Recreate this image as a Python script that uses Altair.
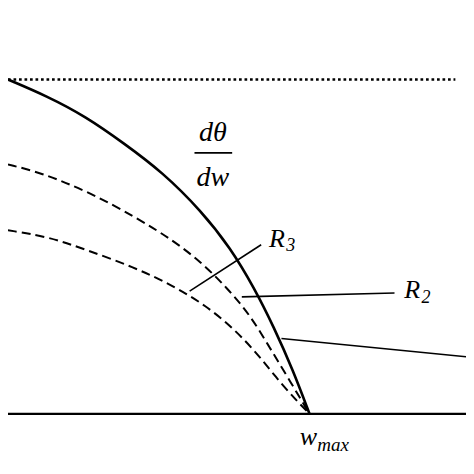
import altair as alt
import pandas as pd

# curves (x, y in picture units, y downwards)
solid_x = [0, 40, 80, 120, 160, 200, 230, 255, 275, 295, 312]
solid_y = [74, 91, 112, 140, 170, 210, 248, 290, 330, 375, 420]

r2_x = [0, 33, 83, 133, 170, 200, 227, 250, 270, 290, 312]
r2_y = [162, 170, 190, 217, 240, 263, 290, 317, 350, 383, 420]

r3_x = [0, 43, 80, 130, 170, 205, 235, 260, 285, 312]
r3_y = [230, 237, 250, 268, 287, 308, 333, 360, 392, 420]

leader_x = [[188, 262], [242, 400], [283, 474]]
leader_y = [[293, 245], [299, 295], [342, 361]]

dotted_y = 74
axis_y = 420

labels = ["R", "3", "R", "2", "dθ", "dw", "w", "max"]
label_x = [270, 288, 410, 428, 212, 212, 302, 320]
label_y = [247, 251, 300, 305, 138, 184, 452, 458]
label_size = [26, 18, 26, 18, 28, 28, 26, 19]
label_align = ["left", "left", "left", "left", "center", "center", "left", "left"]

SERIF = "Liberation Serif"

W = 458
xs = alt.Scale(domain=[0, 474], nice=False, zero=False)
ys = alt.Scale(domain=[474, 0], nice=False, zero=False)


def curve_df(xv, yv):
    return pd.DataFrame({"x": xv, "y": yv, "o": range(len(xv))})


def curve(df, width, dash=None):
    kw = dict(color="black", strokeWidth=width, interpolate="basis", clip=True)
    if dash:
        kw["strokeDash"] = dash
    return alt.Chart(df).mark_line(**kw).encode(
        x=alt.X("x:Q", scale=xs, axis=None),
        y=alt.Y("y:Q", scale=ys, axis=None),
        order="o:Q",
    )


solid = curve(curve_df(solid_x, solid_y), 2.6)
r2 = curve(curve_df(r2_x, r2_y), 2.0, [9, 5])
r3 = curve(curve_df(r3_x, r3_y), 2.0, [9, 5])

lead_rows = []
for lx, ly in zip(leader_x, leader_y):
    lead_rows.append({"x": lx[0], "y": ly[0], "x2": lx[1], "y2": ly[1]})
leaders = alt.Chart(pd.DataFrame(lead_rows)).mark_rule(color="black", strokeWidth=1.6).encode(
    x=alt.X("x:Q", scale=xs, axis=None),
    y=alt.Y("y:Q", scale=ys, axis=None),
    x2="x2:Q",
    y2="y2:Q",
)

hlines = pd.DataFrame({"x": [0, 0], "x2": [463, 474], "y": [dotted_y, axis_y], "k": ["dot", "axis"]})
dotted = alt.Chart(hlines[hlines.k == "dot"]).mark_rule(
    color="black", strokeWidth=2.7, strokeDash=[2.7, 2.8], strokeCap="butt"
).encode(x=alt.X("x:Q", scale=xs, axis=None), x2="x2:Q", y=alt.Y("y:Q", scale=ys, axis=None))
axis = alt.Chart(hlines[hlines.k == "axis"]).mark_rule(color="black", strokeWidth=2.2).encode(
    x=alt.X("x:Q", scale=xs, axis=None), x2="x2:Q", y=alt.Y("y:Q", scale=ys, axis=None)
)

frac = pd.DataFrame({"x": [193], "x2": [232], "y": [150]})
fracline = alt.Chart(frac).mark_rule(color="black", strokeWidth=1.8).encode(
    x=alt.X("x:Q", scale=xs, axis=None), x2="x2:Q", y=alt.Y("y:Q", scale=ys, axis=None)
)

texts = []
for t, tx, ty, sz, al in zip(labels, label_x, label_y, label_size, label_align):
    texts.append(
        alt.Chart(pd.DataFrame({"x": [tx], "y": [ty], "t": [t]})).mark_text(
            font=SERIF, fontStyle="italic", fontSize=sz, align=al,
            baseline="alphabetic", color="black",
        ).encode(
            x=alt.X("x:Q", scale=xs, axis=None),
            y=alt.Y("y:Q", scale=ys, axis=None),
            text="t:N",
        )
    )

chart = alt.layer(dotted, axis, r3, r2, solid, leaders, fracline, *texts).properties(
    width=W, height=W, padding=0, autosize=alt.AutoSizeParams(type="none")
).configure_view(stroke=None)

chart.save("out.html", embed_options={"renderer": "svg", "actions": False})
